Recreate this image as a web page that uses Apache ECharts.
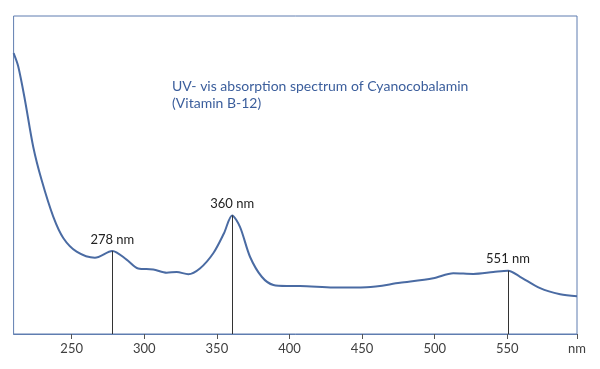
<!DOCTYPE html>
<html>
<head>
<meta charset="utf-8">
<script src="https://cdn.jsdelivr.net/npm/echarts@6/dist/echarts.min.js"></script>
<style>html,body{margin:0;padding:0;background:#fff}#c{width:600px;height:369px}</style>
</head>
<body>
<div id="c"></div>
<script>
// Wavelength (nm) and absorbance (arbitrary units, 0-100 of plot height)
var wavelengths = [210, 213.2, 217.8, 223.5, 229.3, 237.3, 244.2, 253.4, 266, 278, 287.8, 295.8, 306.2, 315.4, 322.3, 330.3, 338.3, 347.5, 354.9, 360.5, 365.9, 372.8, 380.9, 388.9, 398.1, 407.2, 430.2, 453.1, 476.1, 499, 512.8, 526.6, 540.4, 550.5, 558.8, 572.6, 586.4, 598];
var absorbance = [88.3, 84.1, 73.6, 58.9, 48.4, 36.9, 30.2, 25.9, 24.0, 26.1, 23.4, 20.6, 20.3, 19.3, 19.5, 18.8, 20.6, 25.4, 31.7, 37.3, 33.7, 24.3, 18.0, 15.4, 15.1, 15.1, 14.6, 14.7, 16.1, 17.5, 19.1, 18.9, 19.5, 19.9, 18.0, 14.4, 12.5, 11.9];
var peakWavelengths = [278, 360.5, 550.5];
var peakValues = [26.1, 37.3, 19.9];
var peakLabels = ['278 nm', '360 nm', '551 nm'];
var tickValues = [250, 300, 350, 400, 450, 500, 550, 598];
var tickLabels = ['250', '300', '350', '400', '450', '500', '550', 'nm'];
var titleLines = ['UV- vis absorption spectrum of Cyanocobalamin', '(Vitamin B-12)'];

var chart = echarts.init(document.getElementById('c'), null, {renderer: 'canvas'});
var seriesData = wavelengths.map(function (w, i) { return [w, absorbance[i]]; });
var markData = peakWavelengths.map(function (w, i) {
  return [
    {coord: [w, peakValues[i]], label: {formatter: peakLabels[i]}},
    {coord: [w, 0]}
  ];
});
chart.setOption({
  animation: false,
  backgroundColor: '#ffffff',
  title: {
    text: titleLines.join('\n'),
    left: 172, top: 78, padding: 0,
    textStyle: {fontFamily: 'Lato', fontSize: 14, fontWeight: 'normal', color: '#3b5e9c', lineHeight: 17}
  },
  grid: {left: 13.6, right: 23, top: 16, bottom: 35, show: true, borderColor: '#5f7db0', borderWidth: 1},
  xAxis: {
    type: 'value', min: 210, max: 598,
    axisLine: {show: true, lineStyle: {color: '#5f7db0', width: 1}},
    axisTick: {show: true, customValues: tickValues, length: 5, inside: false, lineStyle: {color: '#555'}},
    axisLabel: {
      customValues: tickValues, color: '#404040', fontFamily: 'Lato', fontSize: 13, margin: 8,
      formatter: function (v) { var i = tickValues.indexOf(v); return i >= 0 ? tickLabels[i] : ''; }
    },
    splitLine: {show: false}
  },
  yAxis: {
    type: 'value', min: 0, max: 100,
    axisLine: {show: false}, axisTick: {show: false}, axisLabel: {show: false}, splitLine: {show: false}
  },
  series: [{
    type: 'line',
    data: seriesData,
    smooth: 0.3,
    symbol: 'none',
    lineStyle: {color: '#4a6ba3', width: 2},
    markLine: {
      silent: true,
      symbol: 'none',
      animation: false,
      lineStyle: {color: '#333', width: 1, type: 'solid'},
      label: {show: true, position: 'start', distance: 5, color: '#222', fontFamily: 'Lato', fontSize: 13},
      data: markData
    }
  }]
});
</script>
</body>
</html>
